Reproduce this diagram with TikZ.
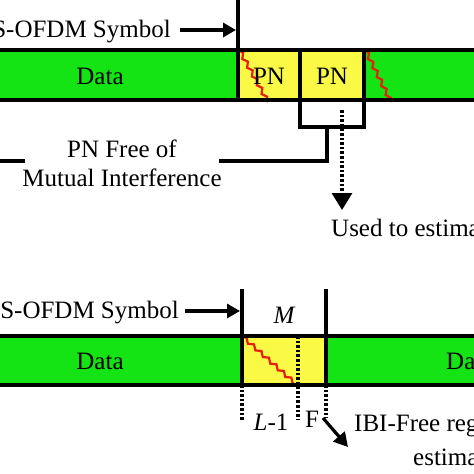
\documentclass[tikz,border=0pt]{standalone}
\usepackage{fontspec}
\setmainfont{Liberation Serif}
\usetikzlibrary{arrows.meta,decorations.pathmorphing}
\definecolor{datagreen}{RGB}{20,228,20}
\definecolor{pnyellow}{RGB}{250,250,70}
\definecolor{wavered}{RGB}{230,30,10}
\begin{document}
\begin{tikzpicture}[x=1pt,y=-1pt,
  txt/.style={font=\fontsize{25}{29}\selectfont, inner sep=0pt},
  bar/.style={draw=black, line width=3.4pt},
  edge/.style={black, line width=3.2pt},
  thin/.style={black, line width=3.2pt},
  dots/.style={black, line width=3.2pt, dash pattern=on 2.6pt off 2pt},
  wave/.style={wavered, line width=2.2pt, decorate, decoration={snake, amplitude=1.8pt, segment length=10pt}},
  bigarrow/.style={-{Triangle[length=17pt,width=20pt]}},
  midarrow/.style={-{Triangle[length=13pt,width=14pt]}}
]
\useasboundingbox (0,0) rectangle (474,474);
\clip (0,0) rectangle (474,474);
% ---------------- top symbol ----------------
\fill[datagreen] (-10,50) rectangle (484,100);
\fill[pnyellow] (238,50) rectangle (364,100);
\draw[wave] (240,51) -- (268,102);
\draw[wave] (366,51) -- (391,102);
\draw[bar] (-10,50) -- (484,50);
\draw[bar] (-10,100) -- (484,100);
\coordinate (t1top) at (238,0);
\coordinate (t1bot) at (238,100);
\coordinate (t2top) at (300,50);
\coordinate (t2bot) at (300,127);
\coordinate (t3top) at (364,50);
\coordinate (t3bot) at (364,127);
\draw[edge] (t1top) -- (t1bot);
\draw[edge] (t2top) -- (t2bot) -- (t3bot) -- (t3top);
\node[txt] (data1) at (100,76) {Data};
\node[txt] (pn1) at (269,76) {PN};
\node[txt] (pn2) at (332,76) {PN};
\node[txt, anchor=east] (sym1) at (171,32) {S-OFDM Symbol};
\coordinate (a1s) at (180,30);
\coordinate (a1e) at (236,30);
\draw[thin, midarrow] (a1s) -- (a1e);
% bracket to label
\coordinate (bm) at (327,127);
\coordinate (bc) at (327,161);
\node[txt, align=center] (free) at (122,163) {PN Free of\\Mutual Interference};
\coordinate (bl) at (-5,161);
\draw[thin] (bm) -- (bc) -- ([xshift=-3pt]free.east |- bc);
\draw[thin] (bl) -- ([xshift=3pt]free.west |- bl);
% dashed arrow
\coordinate (ds) at (342,110);
\node[txt, anchor=west] (used) at (331,228) {Used to estima};
\draw[dots, bigarrow] (ds) -- (342,210);
% ---------------- bottom symbol ----------------
\fill[datagreen] (-10,336) rectangle (484,385);
\fill[pnyellow] (242,336) rectangle (326,385);
\draw[wave] (243,337) -- (297,385);
\draw[bar] (-10,336) -- (484,336);
\draw[bar] (-10,385) -- (484,385);
\coordinate (b1top) at (242,289);
\coordinate (b1bot) at (242,385);
\coordinate (b3top) at (326,289);
\coordinate (b3bot) at (326,385);
\draw[edge] (b1top) -- (b1bot);
\draw[edge] (b3top) -- (b3bot);
\draw[dots] (298,336) -- (298,420);
\draw[dots] (242,385) -- (242,420);
\draw[dots] (326,385) -- (326,418);
\node[txt] (data2) at (100,361) {Data};
\node[txt, anchor=west] (data3) at (446,361) {Da};
\node[txt] (mlab) at (284,315) {\itshape M};
\node[txt, anchor=east] (sym2) at (179,313) {S-OFDM Symbol};
\coordinate (a2s) at (185,311);
\coordinate (a2e) at (240,311);
\draw[thin, midarrow] (a2s) -- (a2e);
\node[txt] (l1) at (271,422) {\itshape L\upshape -1};
\node[txt] (flab) at (312,419) {F};
\coordinate (fs) at (323,418);
\coordinate (fe) at (348,447);
\draw[thin, -{Triangle[length=14pt,width=15pt]}] (fs) -- (fe);
\node[txt, anchor=west] (ibi) at (354,426) {IBI-Free reg};
\node[txt, anchor=west] (est) at (413,457) {estima};
\end{tikzpicture}
\end{document}
